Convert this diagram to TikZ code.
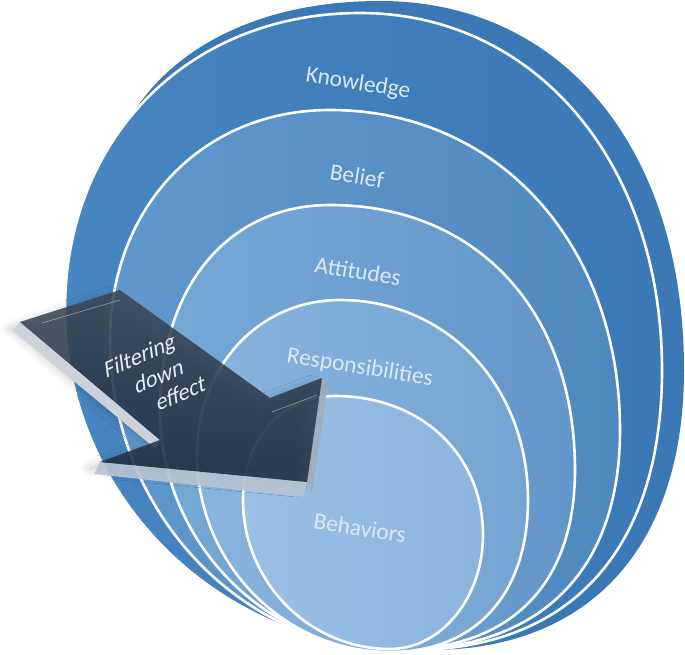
\documentclass[tikz,border=0pt]{standalone}
\usepackage{fontspec}
\setmainfont{Carlito}
\usetikzlibrary{shadows.blur}
\definecolor{kL}{RGB}{72,134,194}
\definecolor{kR}{RGB}{58,120,182}
\definecolor{bL}{RGB}{96,152,205}
\definecolor{bR}{RGB}{80,136,192}
\definecolor{aL}{RGB}{118,168,214}
\definecolor{aR}{RGB}{100,150,202}
\definecolor{rL}{RGB}{136,180,221}
\definecolor{rR}{RGB}{118,164,210}
\definecolor{hL}{RGB}{154,192,228}
\definecolor{hR}{RGB}{140,180,220}
\definecolor{lbl}{RGB}{218,232,244}
\definecolor{arT}{RGB}{62,72,88}
\definecolor{arB}{RGB}{30,45,66}
\definecolor{bev}{RGB}{205,210,218}
\definecolor{bevB}{RGB}{185,196,210}
\definecolor{bevR}{RGB}{160,172,188}
\def\kA{0.58}\def\kB{0.62}\def\kC{0.55}
\tikzset{
  blob/.style n args={8}{insert path={(#1,#2)
    .. controls ({#1+\kA*(#3-#1)},#2) and (#3,{#4-\kA*(#4-#2)}) .. (#3,#4)
    .. controls (#3,{#4+\kB*(#6-#4)}) and ({#5+\kB*(#3-#5)},#6) .. (#5,#6)
    .. controls ({#5-\kC*(#5-#7)},#6) and (#7,{#8+\kC*(#6-#8)}) .. (#7,#8)
    .. controls (#7,{#8-\kA*(#8-#2)}) and ({#1-\kA*(#1-#7)},#2) .. (#1,#2) -- cycle}},
  band/.style={draw=white, line width=2.6pt, line join=round},
  lab/.style={text=lbl, font=\fontsize{23.5}{26}\selectfont, rotate=-9, inner sep=0pt},
  arrtxt/.style={text={rgb,255:red,232;green,236;blue,242}, font=\fontsize{23}{21}\selectfont, rotate=24, xslant=0.3, inner sep=0pt},
  hl/.style={draw=white, draw opacity=0.45, line width=0.6pt}
}
\begin{document}
\begin{tikzpicture}[x=1pt,y=-1pt]
\useasboundingbox (0,0) rectangle (685,655);

% outermost back layer
\def\kA{0.6}\def\kB{0.63}\def\kC{0.55}
\path[fill=kR, blob={380}{1}{684}{370}{430}{650}{100}{230}];

% Knowledge
\def\kA{0.58}\def\kB{0.64}\def\kC{0.55}
\path[band, left color=kL, right color=kR, blob={360}{13}{662}{370}{410}{650}{65}{310}];

% Belief
\path[band, left color=bL, right color=bR, blob={330}{110}{620}{430}{400}{650}{110}{340}];

% Attitudes
\def\kA{0.6}\def\kB{0.64}\def\kC{0.55}
\path[band, left color=aL, right color=aR, blob={330}{205}{575}{470}{395}{650}{160}{410}];

% Responsibilities
\def\kA{0.57}\def\kB{0.62}\def\kC{0.55}
\path[band, left color=rL, right color=rR, blob={340}{300}{528}{500}{390}{652}{197}{455}];

% Behaviors
\def\kA{0.58}\def\kB{0.55}\def\kC{0.55}
\path[band, left color=hL, right color=hR, blob={335}{396}{483}{535}{390}{649}{243}{500}];

% labels
\node[lab] (lK) at (358,84) {Knowledge};
\node[lab] (lB) at (357,176) {Belief};
\node[lab] (lA) at (358,271) {Attitudes};
\node[lab] (lR) at (360,368) {Responsibilities};
\node[lab] (lH) at (360,528) {Behaviors};

% arrow: shadow
\path[blur shadow={shadow xshift=-10pt, shadow yshift=-6pt, shadow blur radius=9pt, shadow blur steps=12, shadow opacity=22}]
  (20,322) -- (120,290) -- (270,398) -- (322,378) -- (307,482) -- (100,462) -- (160,440) -- cycle;
% arrow: side faces
\fill[bev] (20,322) -- (160,440) -- (156,449) -- (13,331) -- cycle;
\fill[bevB, fill opacity=0.9] (100,462) -- (307,482) -- (304,497) -- (94,474) -- cycle;
\fill[bevR, fill opacity=0.9] (322,378) -- (328,384) -- (312,493) -- (307,482) -- cycle;
% arrow: top face
\path[fill opacity=0.87, top color=arT, bottom color=arB]
  (20,322) -- (120,290) -- (270,398) -- (322,378) -- (307,482) -- (100,462) -- (160,440) -- cycle;
\path[hl] (42,323) -- (120,300);
\path[hl] (272,412) -- (317,395);

\node[arrtxt] (t1) at (140,357) {Filtering};
\node[arrtxt] (t2) at (159,376) {down};
\node[arrtxt] (t3) at (181,393) {effect};
\end{tikzpicture}
\end{document}
